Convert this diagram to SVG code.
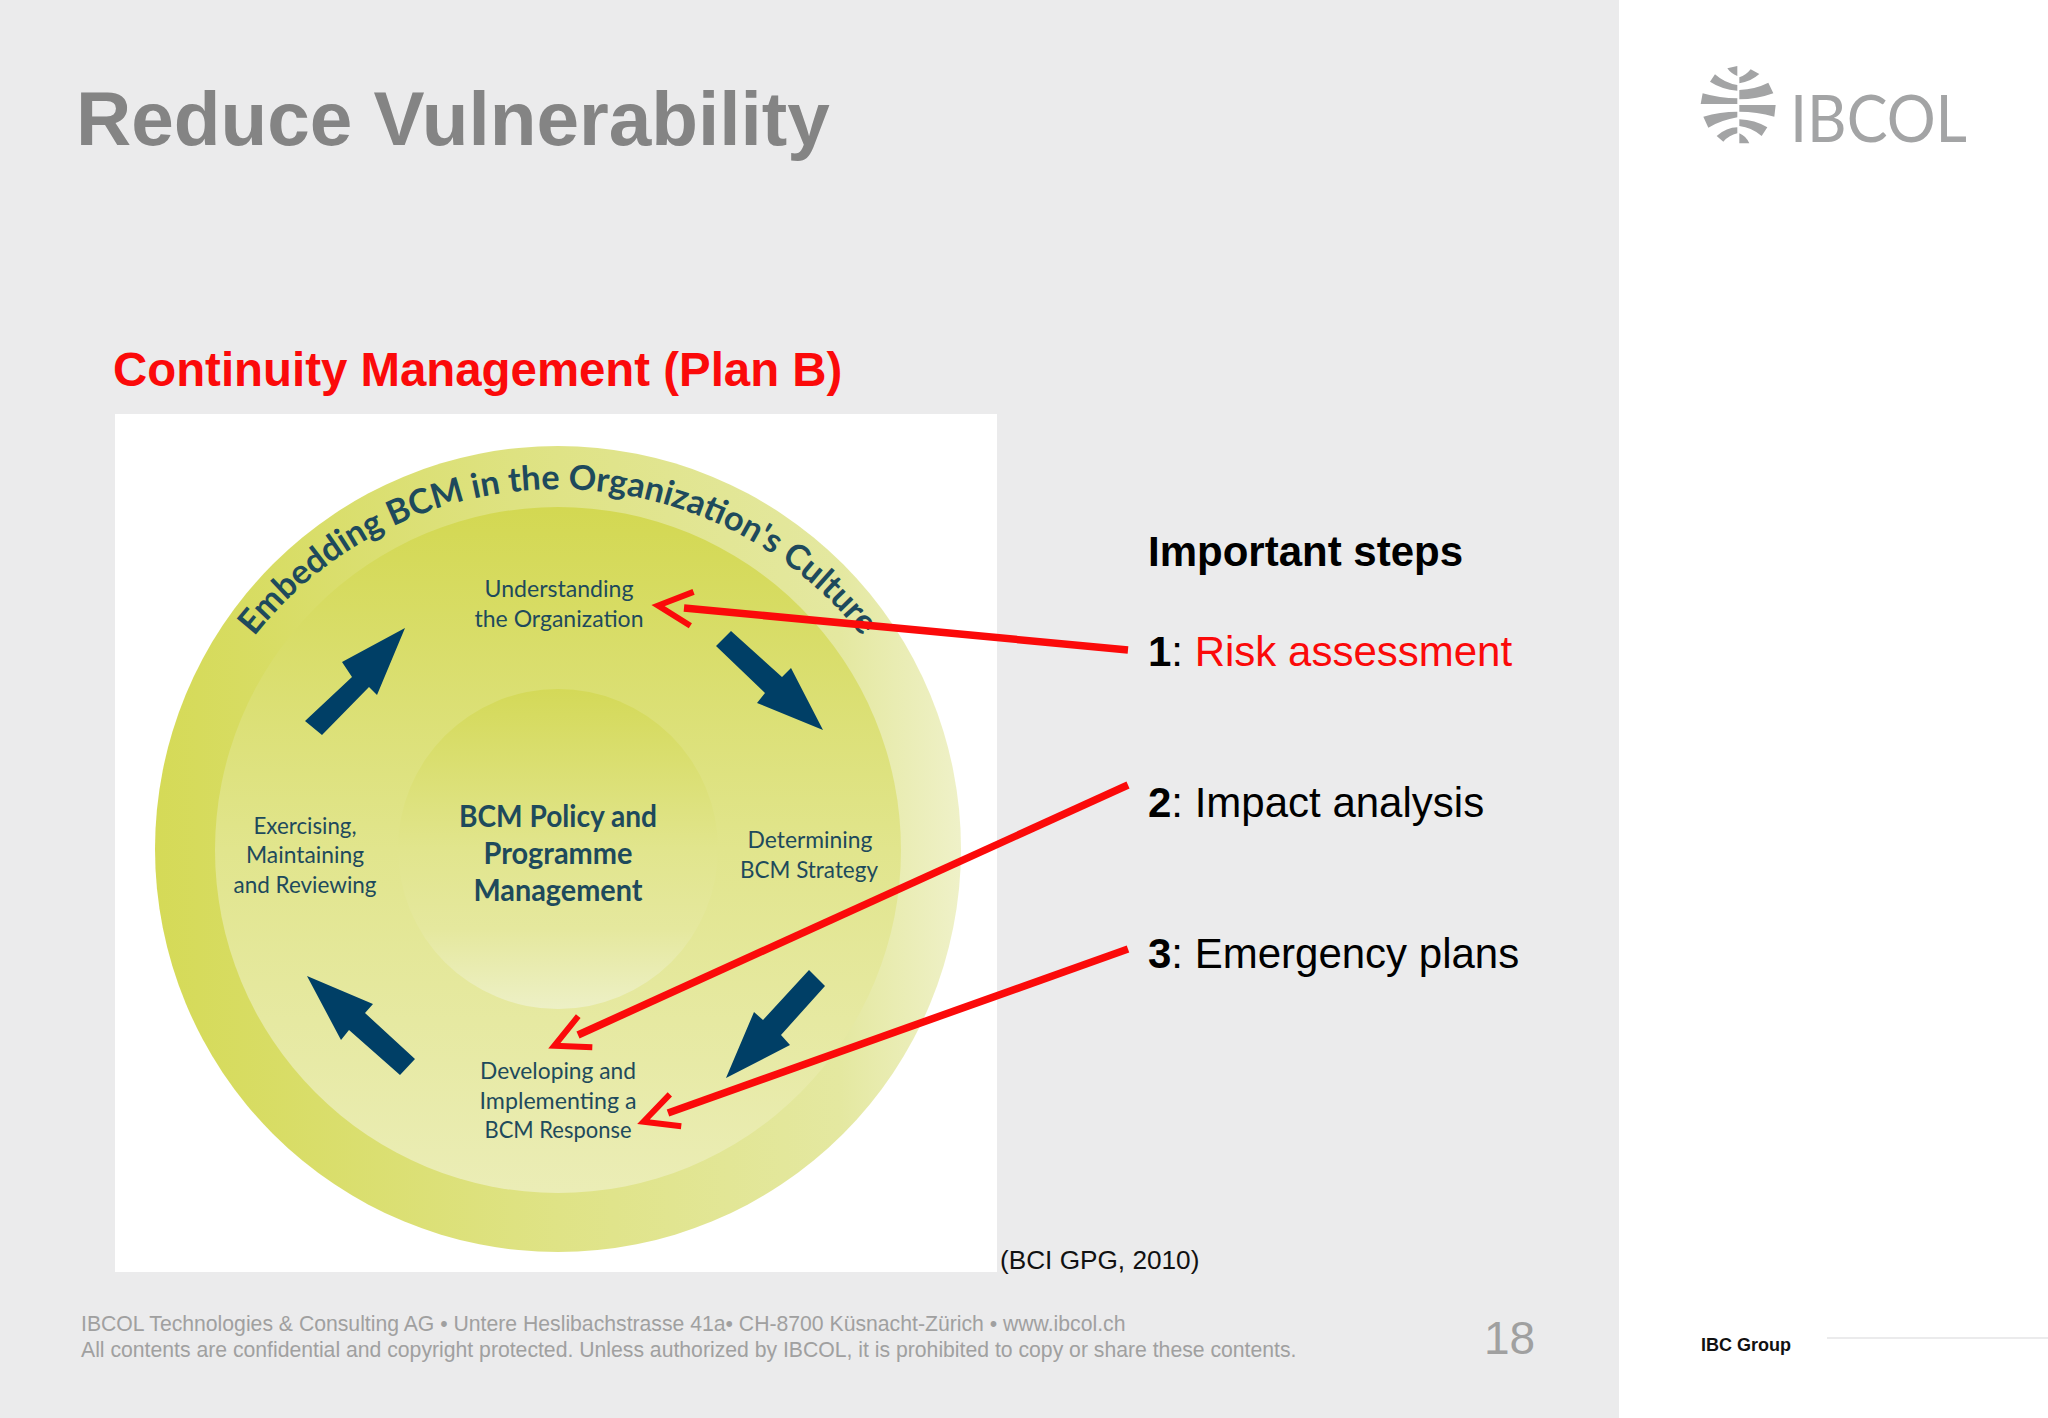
<svg xmlns="http://www.w3.org/2000/svg" width="2048" height="1418" viewBox="0 0 2048 1418">
<style>
text{font-family:"Liberation Sans",Arial,sans-serif}
.d{font-family:Lato,"Noto Sans",sans-serif;fill:#1e4a5c;text-anchor:middle;font-size:24px}
.b{font-size:30px;font-weight:700}
.c{font-family:Lato,"Noto Sans",sans-serif;fill:#1e4a5c;text-anchor:middle;font-size:34.2px;font-weight:700}
.s{font-size:42px;fill:#000}
.f{font-size:21.2px;fill:#a0a0a0}
.n{fill:#003f66}
.r{fill:none;stroke:#fb0a0a;stroke-width:7.5;marker-end:url(#h)}
.lg{fill:#a3a4a5}
</style>
<defs>
<marker id="h" markerUnits="userSpaceOnUse" orient="auto" overflow="visible" refX="0" refY="0" markerWidth="60" markerHeight="60"><path d="M-8,-17 L26,0 L-8,17" fill="none" stroke="#fb0a0a" stroke-width="6"/></marker>
<linearGradient id="g1" x1="0" x2="1" y1="0" y2="0"><stop offset="0" stop-color="#d5da57"/><stop offset=".5" stop-color="#dfe386"/><stop offset=".85" stop-color="#e4e8a0"/><stop offset="1" stop-color="#eff1c8"/></linearGradient>
<linearGradient id="g2" x1="0" x2="0" y1="0" y2="1"><stop offset="0" stop-color="#d3d852"/><stop offset=".5" stop-color="#e1e58d"/><stop offset="1" stop-color="#ebedb6"/></linearGradient>
<linearGradient id="g3" x1="0" x2="0" y1="0" y2="1"><stop offset="0" stop-color="#d4d958"/><stop offset=".5" stop-color="#e1e58d"/><stop offset=".75" stop-color="#e5e89e"/><stop offset="1" stop-color="#edf0c6"/></linearGradient>
<path id="arc" d="M244,650 A387,387 0 0 1 872,650"/>
</defs>
<rect width="2048" height="1418" fill="#ffffff"/>
<rect id="slide" width="1619" height="1418" fill="#ebebec"/>
<text x="76" y="145" font-size="76.5" font-weight="700" fill="#848484">Reduce Vulnerability</text>
<g id="logo">
<path class="lg" transform="translate(1660,40) scale(.3333)" d="M202,85 L232,78 L232,108 Q212,100 202,85Z M272,88 L298,102 Q272,125 238,130 L238,112 Q258,106 272,88Z M165,103 Q195,130 232,135 L232,152 Q185,148 150,125Z M325,128 L340,160 Q290,178 238,178 L238,150 Q285,148 325,128Z M128,160 Q180,175 232,175 L232,192 L122,192Z M238,195 L347,195 L343,230 Q290,215 238,215Z M130,230 Q180,215 232,215 L232,232 Q185,240 145,263Z M238,238 Q285,240 322,262 L305,288 Q275,262 238,258Z M170,288 Q200,262 232,262 L232,280 Q208,285 190,305Z M238,280 Q258,288 268,310 L238,310Z"/>
<text x="1790" y="142" font-size="66" textLength="177" lengthAdjust="spacingAndGlyphs" style="font-family:Lato,'Open Sans',sans-serif;font-weight:400" fill="#a3a4a5">IBCOL</text>
</g>
<text x="113" y="386" font-size="47.4" font-weight="700" fill="#fb0a0a">Continuity Management (Plan B)</text>
<g id="cycle-figure">
<rect x="115" y="414" width="882" height="858" fill="#ffffff"/>
<circle id="ring-outer" cx="558" cy="849" r="403" fill="url(#g1)"/>
<circle id="ring-middle" cx="558" cy="850" r="343" fill="url(#g2)"/>
<circle id="ring-inner" cx="558" cy="849" r="160" fill="url(#g3)"/>
<text class="c"><textPath href="#arc" startOffset="50%">Embedding BCM in the Organization's Culture</textPath></text>
</g>
<g id="node-understanding"><text class="d" x="559" y="597" textLength="149" lengthAdjust="spacingAndGlyphs">Understanding</text><text class="d" x="559" y="627" textLength="169" lengthAdjust="spacingAndGlyphs">the Organization</text></g>
<g id="node-determining"><text class="d" x="810" y="848" textLength="125" lengthAdjust="spacingAndGlyphs">Determining</text><text class="d" x="809" y="878" textLength="138" lengthAdjust="spacingAndGlyphs">BCM Strategy</text></g>
<g id="node-developing"><text class="d" x="558" y="1079" textLength="156" lengthAdjust="spacingAndGlyphs">Developing and</text><text class="d" x="558" y="1109" textLength="157" lengthAdjust="spacingAndGlyphs">Implementing a</text><text class="d" x="558" y="1138" textLength="147" lengthAdjust="spacingAndGlyphs">BCM Response</text></g>
<g id="node-exercising"><text class="d" x="305" y="834" textLength="103" lengthAdjust="spacingAndGlyphs">Exercising,</text><text class="d" x="305" y="863" textLength="118" lengthAdjust="spacingAndGlyphs">Maintaining</text><text class="d" x="305" y="893" textLength="143" lengthAdjust="spacingAndGlyphs">and Reviewing</text></g>
<g id="node-policy"><text class="d b" x="558" y="827" textLength="198" lengthAdjust="spacingAndGlyphs">BCM Policy and</text><text class="d b" x="558" y="864" textLength="149" lengthAdjust="spacingAndGlyphs">Programme</text><text class="d b" x="558" y="901" textLength="169" lengthAdjust="spacingAndGlyphs">Management</text></g>
<g id="connectors">
<polygon class="n" points="405,628 342,662 352,677 305,721 322,735 369,687 377,695"/>
<polygon class="n" points="731,631 716,646 765,693 757,703 823,730 791,668 782,677"/>
<polygon class="n" points="809,970 825,986 781,1035 790,1045 726,1078 754,1012 763,1020"/>
<polygon class="n" points="307,976 373,1004 365,1013 415,1059 400,1075 349,1030 341,1040"/>
<line class="r" x1="1128" y1="650" x2="684" y2="608"/>
<line class="r" x1="1128" y1="785" x2="578" y2="1035"/>
<line class="r" x1="1128" y1="949" x2="668" y2="1113"/>
</g>
<text class="s" x="1148" y="566" font-weight="700">Important steps</text>
<text class="s" x="1148" y="666"><tspan font-weight="700">1</tspan>: <tspan fill="#fb0a0a">Risk assessment</tspan></text>
<text class="s" x="1148" y="817"><tspan font-weight="700">2</tspan>: Impact analysis</text>
<text class="s" x="1148" y="968"><tspan font-weight="700">3</tspan>: Emergency plans</text>
<text x="1000" y="1269" font-size="26.2" fill="#111">(BCI GPG, 2010)</text>
<text class="f" x="81" y="1331">IBCOL Technologies &amp; Consulting AG • Untere Heslibachstrasse 41a• CH-8700 Küsnacht-Zürich • www.ibcol.ch</text>
<text class="f" x="81" y="1357">All contents are confidential and copyright protected. Unless authorized by IBCOL, it is prohibited to copy or share these contents.</text>
<text x="1484" y="1354" font-size="46" fill="#a0a0a0">18</text>
<text x="1701" y="1351" font-size="18" font-weight="700" fill="#111">IBC Group</text>
<line x1="1827" y1="1338" x2="2048" y2="1338" stroke="#ebebec" stroke-width="2"/>
</svg>
